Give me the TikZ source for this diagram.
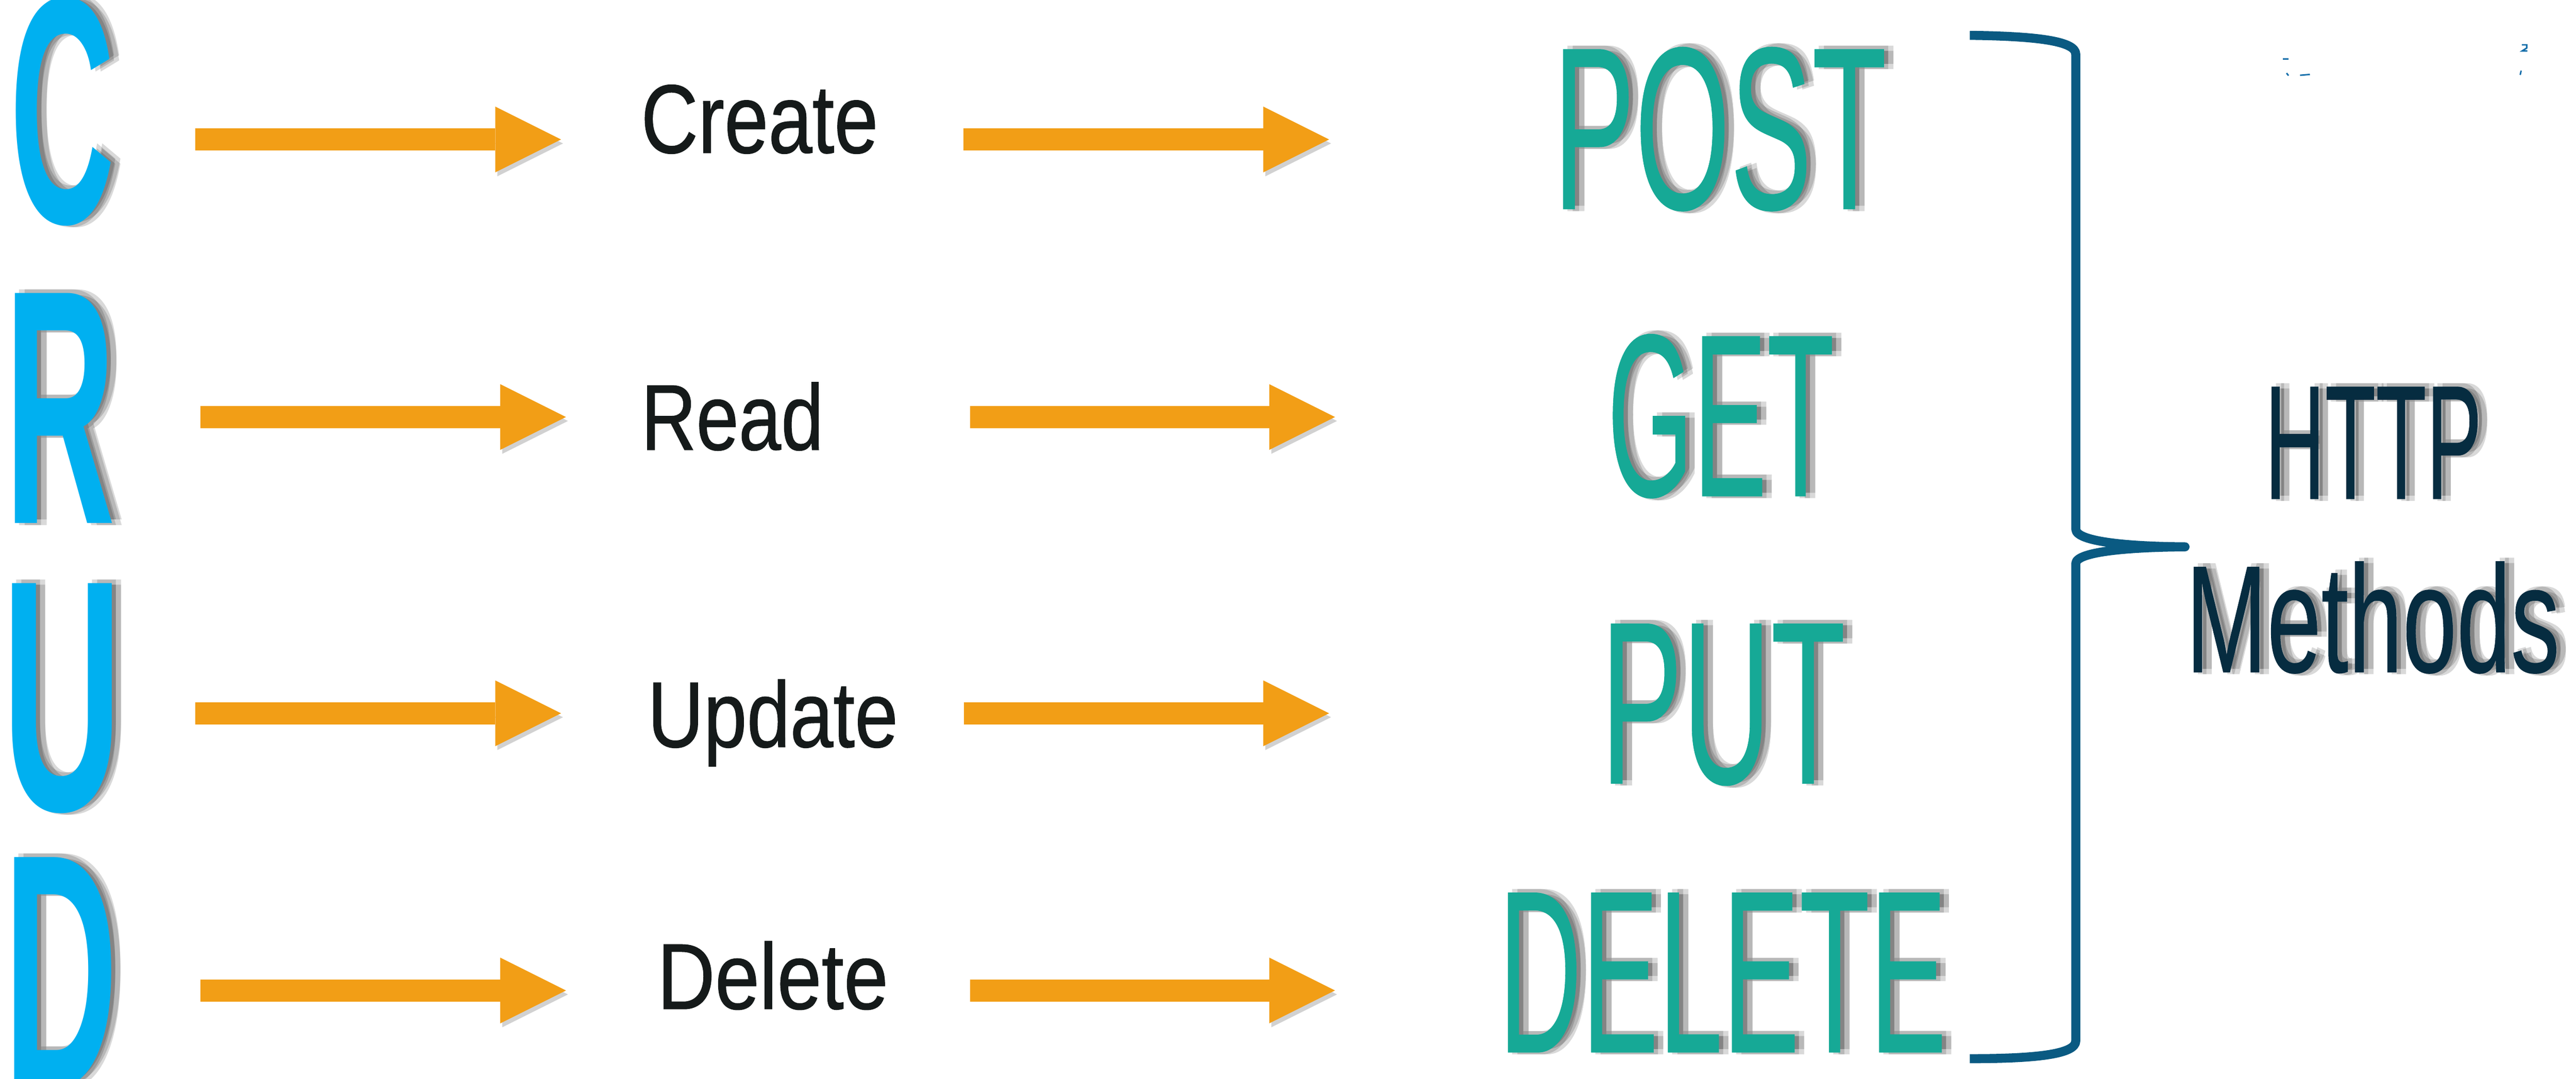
\documentclass[tikz,border=0pt]{standalone}
\usepackage{fontspec}
\setmainfont{Liberation Sans}
\newfontfamily\methfont[FakeBold=0.25]{Liberation Sans}
\newfontfamily\httpfont[FakeBold=0.5]{Liberation Sans}
\newfontfamily\wordfont[FakeBold=0.8]{Liberation Sans}
\usetikzlibrary{arrows.meta,fadings}
\definecolor{crudblue}{RGB}{0,176,240}
\definecolor{arroworange}{RGB}{242,158,22}
\definecolor{methodteal}{RGB}{22,169,150}
\definecolor{wordblack}{RGB}{21,26,26}
\definecolor{httpnavy}{RGB}{6,44,64}
\definecolor{bracecol}{RGB}{10,90,130}
\definecolor{speckcol}{RGB}{20,110,170}
\newcommand\fitto[3]{\resizebox{#1pt}{#2pt}{#3}}
\tikzset{
  txt/.style={inner sep=0pt, outer sep=0pt, anchor=base west},
  crud/.style={txt, text=crudblue, font=\bfseries},
  word/.style={txt, text=wordblack, font=\wordfont},
  method/.style={txt, text=methodteal, font=\methfont},
  httptext/.style={txt, text=httpnavy, font=\httpfont},
  flow/.style={draw=arroworange, line width=13.5pt,
    -{Triangle[length=40pt,width=40pt,line width=0pt]},
    preaction={draw=black, opacity=0.18, transform canvas={shift={(1.2pt,-2.4pt)}}}},
  bracestyle/.style={draw=bracecol, line width=5.5pt, line join=round},
  speck/.style={draw=speckcol, line width=0.9pt},
}
% texts that carry a drop shadow: #1 extra style, #2 name prefix
\newcommand\shadowedtexts[2]{%
  \node[crud,#1] (#2C) at (6.2,135.5) {\fitto{63.8}{137}{C}};
  \node[crud,#1] (#2R) at (3.0,318.5) {\fitto{67.2}{139.9}{R}};
  \node[crud,#1] (#2U) at (1.4,493) {\fitto{72.9}{138}{U}};
  \node[crud,#1] (#2D) at (2.25,661.8) {\fitto{69.5}{140}{D}};
  \node[method,#1] (#2post) at (945.5,127.2) {\fitto{202.8}{98.5}{POST}};
  \node[method,#1] (#2get) at (978.4,301.9) {\fitto{138}{98.5}{GET}};
  \node[method,#1] (#2put) at (974.5,476.8) {\fitto{148.8}{97.1}{PUT}};
  \node[method,#1] (#2del) at (912.2,640.4) {\fitto{272.5}{97}{DELETE}};
  \node[httptext,#1] (#2http) at (1378.7,303.5) {\fitto{131.9}{67.9}{HTTP}};
  \node[httptext,#1] (#2methods) at (1330.5,409) {\fitto{227.5}{67.2}{Methods}};
}
\begin{tikzfadingfrompicture}[name=textshadow, x=1pt, y=-1pt]
  \path (-784,-328.265) rectangle (784,328.265);
  \begin{scope}[shift={(-779.8,-324.065)}]
    \shadowedtexts{text=transparent!0}{sh}
  \end{scope}
\end{tikzfadingfrompicture}
\begin{document}
\begin{tikzpicture}[x=1pt,y=-1pt]
\useasboundingbox (0,0) rectangle (1568,656.53);
\fill[white] (0,0) rectangle (1568,656.53);

% blurred drop shadows of the large letters
\foreach \dx/\dy in {-1.6/-1.6, 1.6/-1.6, -1.6/1.6, 1.6/1.6}
  \fill[black, opacity=0.15, path fading=textshadow, fit fading=false,
        fading transform={shift={(784pt,-328.265pt)}, shift={(\dx pt,\dy pt)}}]
        (0,0) rectangle (1568,656.53);

% CRUD letters, HTTP methods, "HTTP Methods"
\shadowedtexts{}{}

% operation words
\node[word] (create) at (390.2,93) {\fitto{144.3}{41.4}{Create}};
\node[word] (read) at (390.3,273.7) {\fitto{111}{41.1}{Read}};
\node[word] (update) at (394.2,454.6) {\fitto{152.4}{41.1}{Update}};
\node[word] (delete) at (400.1,614) {\fitto{140.6}{41.2}{Delete}};

% arrow end points
\coordinate (a1s) at (118.7,84.9); \coordinate (a1e) at (341.5,84.9);
\coordinate (b1s) at (586.5,84.9); \coordinate (b1e) at (809,84.9);
\coordinate (a2s) at (122,253.8);  \coordinate (a2e) at (344.5,253.8);
\coordinate (b2s) at (590.5,253.8); \coordinate (b2e) at (812.6,253.8);
\coordinate (a3s) at (119,434.1);  \coordinate (a3e) at (341.5,434.1);
\coordinate (b3s) at (586.6,434.1); \coordinate (b3e) at (809,434.1);
\coordinate (a4s) at (122,602.8);  \coordinate (a4e) at (344.5,602.8);
\coordinate (b4s) at (590.5,602.8); \coordinate (b4e) at (812.6,602.8);

\draw[flow] (a1s) -- (a1e);
\draw[flow] (b1s) -- (b1e);
\draw[flow] (a2s) -- (a2e);
\draw[flow] (b2s) -- (b2e);
\draw[flow] (a3s) -- (a3e);
\draw[flow] (b3s) -- (b3e);
\draw[flow] (a4s) -- (a4e);
\draw[flow] (b4s) -- (b4e);

% brace
\coordinate (bt) at (1199,21.5);
\coordinate (bv1) at (1263.5,33);
\coordinate (bv2) at (1263.5,322);
\coordinate (btip) at (1330,332.8);
\coordinate (bv3) at (1263.5,343);
\coordinate (bv4) at (1263.5,633.5);
\coordinate (bb) at (1199,644.3);
\draw[bracestyle] (bt) .. controls (1240,22) and (1263.5,25) .. (bv1)
  -- (bv2) .. controls (1263.5,330) and (1298,332.6) .. (btip)
  .. controls (1298,333) and (1263.5,335.5) .. (bv3)
  -- (bv4) .. controls (1263.5,641.5) and (1240,644.3) .. (bb);

% small stray marks at the top right
\draw[speck] (1389.6,36) -- (1393,36);
\draw[speck] (1391.8,44.5) -- (1393,46);
\draw[speck] (1400,45.8) -- (1406,45.3);
\draw[speck] (1535,27.3) -- (1538,27.3) -- (1538,29.2) -- (1535.2,31) -- (1538.4,31);
\draw[speck] (1534.6,43) -- (1534,45.6);
\end{tikzpicture}
\end{document}
